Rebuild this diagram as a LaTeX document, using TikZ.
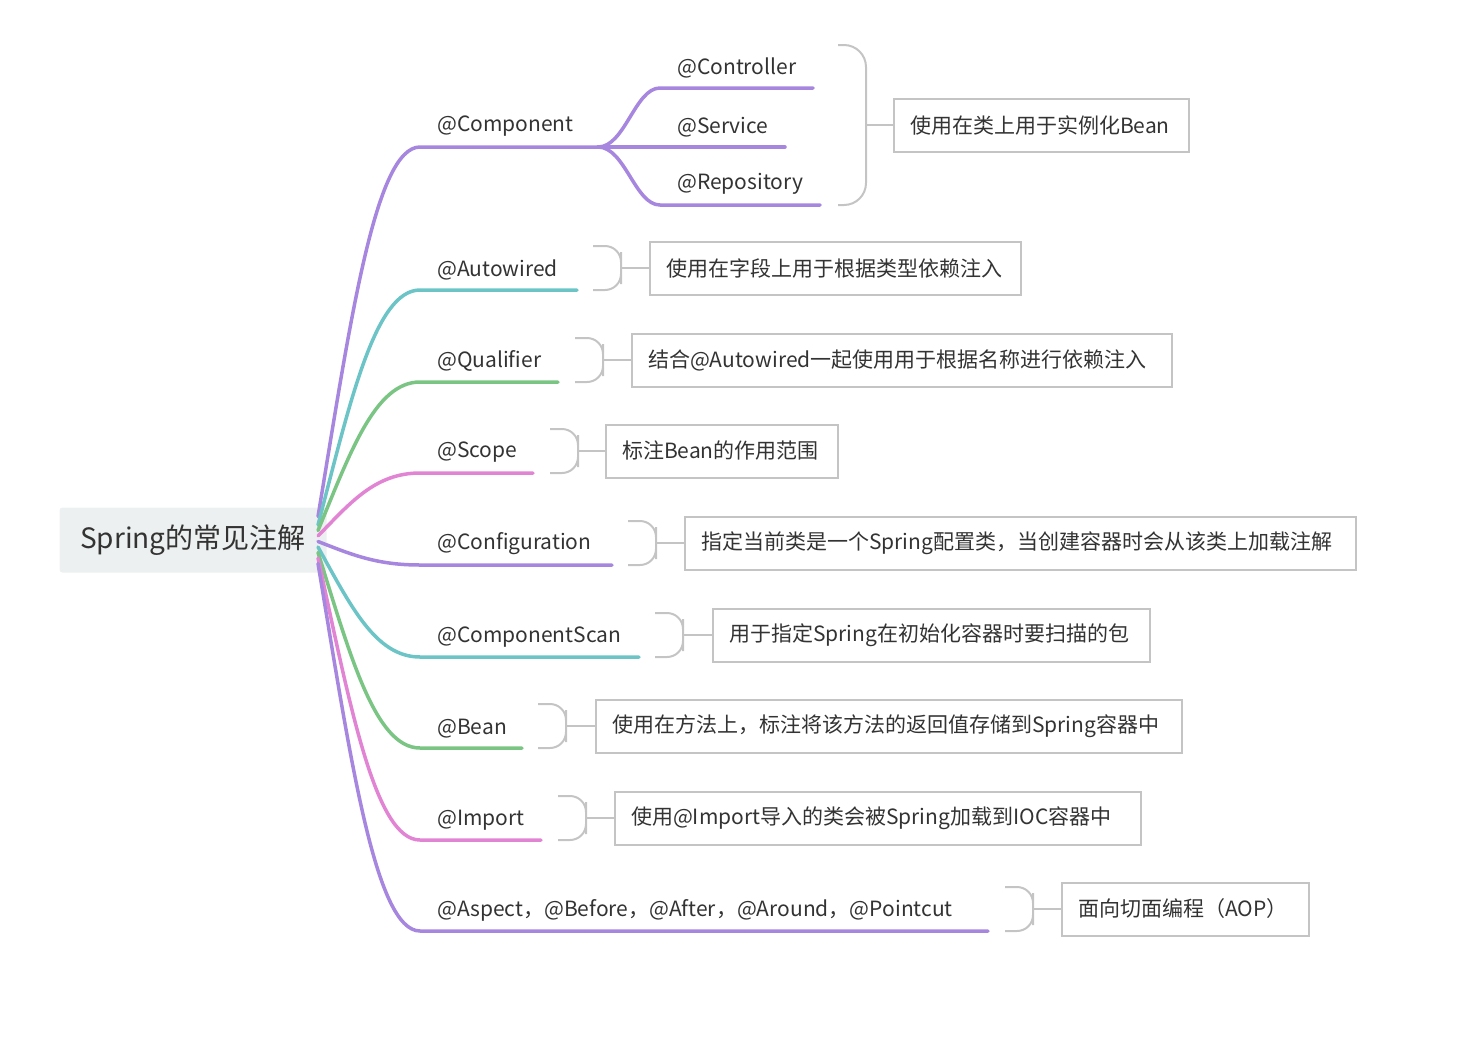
\documentclass[tikz,border=0pt]{standalone}
\usepackage{fontspec}
\setmainfont{Noto Sans CJK SC}
\usetikzlibrary{positioning,calc}
\definecolor{mmpurple}{RGB}{166,134,222}
\definecolor{mmteal}{RGB}{108,196,198}
\definecolor{mmgreen}{RGB}{122,196,132}
\definecolor{mmpink}{RGB}{226,132,212}
\definecolor{mmgray}{RGB}{196,196,196}
\definecolor{mmtext}{RGB}{51,51,51}
\definecolor{mmroot}{RGB}{237,240,240}
\tikzset{
  branch/.style={line width=3.5pt,line cap=round},
  leaf/.style={anchor=south west,inner sep=0pt,text=mmtext,font=\fontsize{21}{24}\selectfont},
  note/.style={draw=mmgray,line width=2pt,anchor=west,inner xsep=16pt,minimum height=53pt,
    text=mmtext,font=\fontsize{21}{24}\selectfont},
  brace/.style={draw=mmgray,line width=2pt,rounded corners=16pt}
}
\begin{document}
\begin{tikzpicture}[x=1pt,y=-1pt]
\useasboundingbox (0,0) rectangle (1468,1042);
% root
\node[fill=mmroot,rounded corners=3pt,minimum width=267pt,minimum height=65pt,
  text=mmtext,font=\fontsize{28}{32}\selectfont] (root) at (193,540) {Spring的常见注解};
% branches: name/label/underline y/end x/colour/brace x/box left/box width/text
\foreach \n/\lab/\y/\e/\c/\bx/\bl/\bw/\txt in {
  comp/@Component/147/600/mmpurple/0/0/0/,
  auto/@Autowired/290/577/mmteal/593/649/371/使用在字段上用于根据类型依赖注入,
  qual/@Qualifier/382/558/mmgreen/575/631/540/结合@Autowired一起使用用于根据名称进行依赖注入,
  scop/@Scope/473/533/mmpink/550/605/232/标注Bean的作用范围,
  conf/@Configuration/565/612/mmpurple/628/684/671/指定当前类是一个Spring配置类，当创建容器时会从该类上加载注解,
  scan/@ComponentScan/657/639/mmteal/655/712/437/用于指定Spring在初始化容器时要扫描的包,
  bean/@Bean/748/522/mmgreen/538/595/586/使用在方法上，标注将该方法的返回值存储到Spring容器中,
  impo/@Import/840/541/mmpink/558/614/526/使用@Import导入的类会被Spring加载到IOC容器中,
  aspe/{@Aspect，@Before，@After，@Around，@Pointcut}/931/988/mmpurple/1005/1061/247/面向切面编程（AOP）}
{
  \draw[branch,draw=\c] (318,{540+0.06*(\y-540)})
    .. controls (350,{540+0.55*(\y-540)}) and (375,\y) .. (420,\y) -- (\e,\y);
  \node[leaf] (\n) at (437,\y-10) {\lab};
  \ifnum\bx>0
    \node[note,text width={\bw-32}] (\n note) at (\bl,\y-22) {\txt};
    \draw[brace] (\bx,\y-44) -| (\bx+28,\y-22) |- (\bx,\y);
    \draw[draw=mmgray,line width=2pt] (\bx+28,\y-22) -- (\n note.west);
  \fi
}
% sub-branches of @Component
\foreach \n/\lab/\y/\e in {ctrl/@Controller/88/813, serv/@Service/147/785, repo/@Repository/205/820}
{
  \draw[branch,draw=mmpurple] (598,147) .. controls (625,147) and (635,\y) .. (660,\y) -- (\e,\y);
  \node[leaf] (\n) at (677,\y-10) {\lab};
}
\node[note,text width=263pt] (compnote) at (893,125) {使用在类上用于实例化Bean};
\draw[brace,rounded corners=22pt] (838,45) -| (866,125) |- (838,205);
\draw[draw=mmgray,line width=2pt] (866,125) -- (compnote.west);
\end{tikzpicture}
\end{document}
